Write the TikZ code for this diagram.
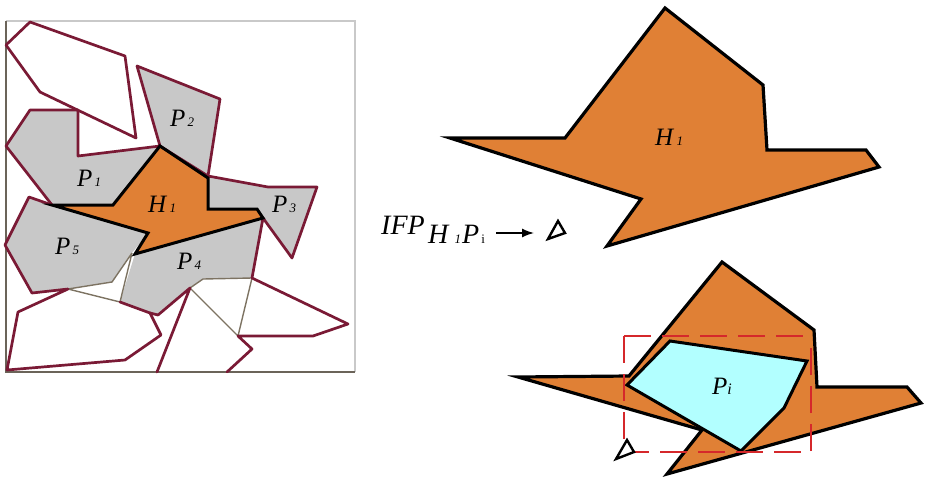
\documentclass[tikz,border=0pt]{standalone}
\usepackage{fontspec}
\usetikzlibrary{arrows.meta}
\setmainfont{Liberation Serif}
\definecolor{maroon}{HTML}{7A1A35}
\definecolor{grayfill}{HTML}{C8C8C8}
\definecolor{orangefill}{HTML}{E08035}
\definecolor{cyanfill}{HTML}{B2FFFF}
\definecolor{thinedge}{HTML}{7D7362}
\definecolor{framedark}{HTML}{6B6459}
\definecolor{framelight}{HTML}{C9C9C9}
\definecolor{dashred}{HTML}{D5282B}
\newcommand{\plabel}[2]{\textit{#1}{\fontsize{13}{13}\selectfont\,\textit{#2}}}
\tikzset{
  maroonline/.style={draw=maroon,line width=2.7pt,line join=round,line cap=round},
  thinline/.style={draw=thinedge,line width=1.4pt},
  blackline/.style={draw=black,line width=3pt,line join=miter},
  bigblack/.style={draw=black,line width=3.2pt,line join=miter},
  lbl/.style={anchor=base west,inner sep=0pt,font=\fontsize{25}{25}\selectfont},
  formula/.style={anchor=base west,inner sep=0pt,font=\fontsize{28}{28}\selectfont},
  viewer/.style={draw=black,fill=white,line width=2.4pt,line join=miter},
}
\begin{document}
\begin{tikzpicture}[x=1pt,y=-1pt]
\useasboundingbox (0,0) rectangle (926,480);
% frame
\draw[framelight,line width=1.6pt] (6,21) -- (355,21) -- (355,372);
\draw[framedark,line width=1.5pt] (6,21) -- (6,372) -- (355,372);
% fills
\fill[grayfill] (30,110) -- (78,110) -- (78,156) -- (160,146) -- (113,205) -- (52,205) -- (6,146) -- cycle;
\fill[grayfill] (137,66) -- (220,99) -- (208,176) -- (208,209) -- (160,146) -- cycle;
\fill[grayfill] (208,177) -- (268,187) -- (317,187) -- (292,258) -- (263,218) -- (257,209) -- (208,209) -- cycle;
\fill[grayfill] (135,254) -- (263,218) -- (252,278) -- (203,279) -- (190,288) -- (158,315) -- (150,313) -- (120,302) -- cycle;
\fill[grayfill] (29,197) -- (52,205) -- (148,233) -- (132,253) -- (112,282) -- (68,289) -- (32,293) -- (5,245) -- cycle;
\fill[orangefill] (160,146) -- (208,178) -- (208,209) -- (257,209) -- (263,218) -- (135,254) -- (148,233) -- (52,205) -- (113,205) -- cycle;
% thin edges
\draw[thinline] (132,253) -- (112,282) -- (68,289) -- (120,302) -- (132,253);
\draw[thinline] (190,288) -- (203,279) -- (252,278) -- (238,336) -- (190,288);
% maroon outlines
\draw[maroonline] (30,22) -- (125,56) -- (136,138) -- (40,92) -- (6,45) -- cycle;
\draw[maroonline] (52,205) -- (6,146) -- (30,110) -- (78,110) -- (78,156) -- (160,146) -- (137,66) -- (220,99) -- (208,176) -- (160,146);
\draw[maroonline] (208,176) -- (268,187) -- (317,187) -- (292,258) -- (263,218) -- (252,278) -- (348,324) -- (313,336) -- (238,336) -- (252,349) -- (227,372);
\draw[maroonline] (52,205) -- (29,197) -- (5,245) -- (32,293) -- (68,289) -- (18,312) -- (7,370) -- (125,360) -- (161,335) -- (150,313) -- (120,302);
\draw[maroonline] (150,313) -- (158,315) -- (190,288) -- (157,372);
% black H1 outline, left
\draw[blackline] (160,146) -- (208,178) -- (208,209) -- (257,209) -- (263,218) -- (135,254) -- (148,233) -- (52,205) -- (113,205) -- cycle;
% labels, left
\node[lbl] (p1) at (77,186) {\plabel{P}{1}};
\node[lbl] (p2) at (170,126) {\plabel{P}{2}};
\node[lbl] (h1) at (148,212) {\plabel{H}{1}};
\node[lbl] (p3) at (272,212) {\plabel{P}{3}};
\node[lbl] (p4) at (177,269) {\plabel{P}{4}};
\node[lbl] (p5) at (55,254) {\plabel{P}{5}};
% H1 upper right
\filldraw[bigblack,fill=orangefill] (450,138) -- (565,138) -- (665,8) -- (763,85) -- (767,150) -- (866,150) -- (879,167) -- (607,246) -- (641,199) -- cycle;
\node[lbl] (h1r) at (655,145) {\plabel{H}{1}};
% IFP
\node[formula] (ifp) at (381,234) {\textit{IFP}};
\node[formula] (ifpsub) at (428,243) {\textit{H}\hspace{5pt}{\fontsize{13}{13}\selectfont\textit{1}}\hspace{1pt}\textit{P}{\fontsize{13}{13}\selectfont\hspace{2pt}i}};
\coordinate (arrowa) at (496,233);
\coordinate (arrowb) at (534,233);
\draw[line width=1.5pt,-{Latex[length=12pt,width=9pt]}] (arrowa) -- (arrowb);
\draw[viewer] (558,221) -- (565,233) -- (548,239) -- cycle;
% H1 lower right
\filldraw[bigblack,fill=orangefill] (518,377) -- (629,376) -- (722,262) -- (814,330) -- (817,387) -- (907,387) -- (921,403) -- (667,474) -- (702,430) -- cycle;
\filldraw[blackline,fill=cyanfill] (670,341) -- (807,361) -- (784,408) -- (741,451) -- (627,385) -- cycle;
\node[lbl] (pi) at (712,394) {\textit{P}{\fontsize{16}{16}\selectfont\textit{i}}};
\draw[dashred,line width=2.4pt,dash pattern=on 27pt off 11pt] (624,336) -- (811,336);
\draw[dashred,line width=2.4pt,dash pattern=on 27pt off 11pt] (624,336) -- (624,452) -- (811,452) -- (811,348);
\draw[viewer] (627,440) -- (634,452) -- (616,459) -- cycle;
\end{tikzpicture}
\end{document}
